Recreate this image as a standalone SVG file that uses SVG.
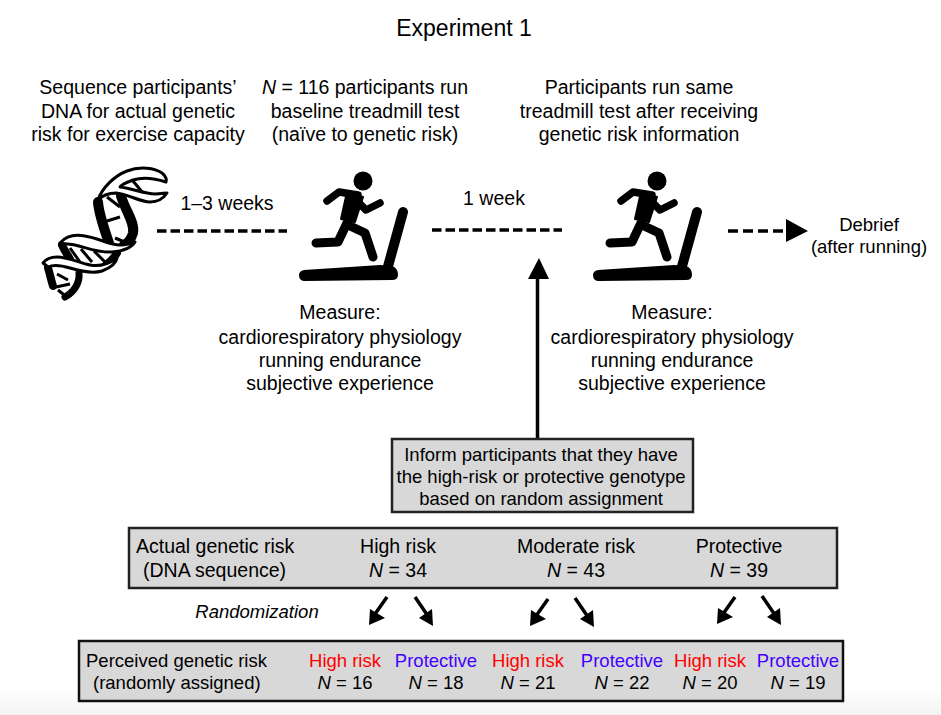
<svg xmlns="http://www.w3.org/2000/svg" width="941" height="715" viewBox="0 0 941 715">
<style>
text{font-family:"Liberation Sans",Arial,sans-serif;font-size:19.500px;fill:#000;text-anchor:middle}
.s{font-size:18.500px}
.l{text-anchor:start}
.box{fill:#d8d8d8;stroke:#222;stroke-width:2.500}
.dash{fill:none;stroke:#000;stroke-width:3.500;stroke-dasharray:9.500 4}
.red{fill:#f00}.blue{fill:#40f}
.limb{fill:none;stroke:#000;stroke-width:9;stroke-linecap:round;stroke-linejoin:round}
.ribbon{fill:#fff;stroke:#000;stroke-width:3;stroke-linejoin:round}
.strand{fill:none;stroke:#000;stroke-linecap:round}
.rung{fill:none;stroke:#000;stroke-width:3}
</style>
<defs>
<linearGradient id="sh" x1="0" y1="0" x2="0" y2="1"><stop offset="0" stop-color="#fff"/><stop offset="1" stop-color="#f3f3f3"/></linearGradient>
<g id="runner">
<circle cx="363" cy="181" r="9.500" fill="#000"/>
<path d="M347 192L363 197L355 222L341 219Z" fill="#000" stroke="#000" stroke-width="2" stroke-linejoin="round"/>
<path class="limb" style="stroke-width:7.500" d="M358 195L339 192L327 201"/>
<path class="limb" style="stroke-width:7.500" d="M358 202L366 210L380 203"/>
<path class="limb" d="M347 223L338 242L316 243"/>
<path class="limb" d="M348 225L365 233L373 257"/>
<path d="M304 270L380 265L392 266Q398 268 398 275Q398 280 392 280L305 281Q299 281 299 275Q299 271 304 270Z" fill="#000"/>
<path d="M403 212L387 270" fill="none" stroke="#000" stroke-width="10" stroke-linecap="round"/>
</g>
</defs>
<rect x="0" y="690" width="941" height="25" fill="url(#sh)"/>
<text x="464" y="36" style="font-size:23px">Experiment 1</text>

<g id="step-dna-text"><text x="138" y="94">Sequence participants’</text><text x="138" y="118">DNA for actual genetic</text><text x="138" y="141">risk for exercise capacity</text></g>
<g id="step-baseline-text"><text x="365" y="94"><tspan font-style="italic">N</tspan> = 116 participants run</text><text x="365" y="118">baseline treadmill test</text><text x="365" y="141">(naïve to genetic risk)</text></g>
<g id="step-retest-text"><text x="639" y="94">Participants run same</text><text x="639" y="118">treadmill test after receiving</text><text x="639" y="141">genetic risk information</text></g>

<g id="dna">
<path class="strand" style="stroke-width:10" d="M98 202C99 215 104 228 109 243"/>
<path class="strand" style="stroke-width:10" d="M121 196C125 210 135 222 133 233C131 240 128 243 124 245"/>
<path class="strand" style="stroke-width:8" d="M62 245C64 250 67 254 70 259"/>
<path class="strand" style="stroke-width:8" d="M117 253C114 258 110 262 106 265"/>
<path class="strand" style="stroke-width:8" d="M48 268C50 274 51 280 53 286"/>
<path class="strand" style="stroke-width:7" d="M79 273C80 283 74 292 65 297"/>
<path class="rung" d="M107 197L120 207M107 221L120 217M115 238L127 243M70 248L80 262M81 249L92 262M94 251L105 262M57 274L68 280M56 287L70 284M58 290L68 298M133 181L143 193"/>
<path class="ribbon" d="M98 200C102 188 114 176 127 171C140 166 155 168 162 173C166 176 167 180 166 182C160 180 145 176 133 180C125 183 120 186 120 187C130 188 145 194 155 194C160 194 165 193 167 193C163 199 158 202 150 202C140 202 128 194 116 193C108 193 102 196 98 200Z"/>
<path class="ribbon" d="M60 243C66 236 75 234 85 236C98 238 110 245 120 245C126 245 131 244 135 242C132 247 124 251 112 252C98 253 85 247 75 245C70 244 65 244 60 243Z"/>
<path class="ribbon" d="M43 263C46 259 50 257 57 257C68 257 80 263 90 265C100 267 110 263 117 258C116 264 110 268 102 271C92 274 80 271 70 268C60 265 52 265 48 267Z"/>
</g>
<g id="runner-1"><use href="#runner"/></g>
<g id="runner-2"><use href="#runner" x="294"/></g>

<g id="connectors">
<path class="dash" d="M157 231H287"/>
<path class="dash" d="M432 230H562"/>
<path class="dash" d="M728 231H788" style="stroke-dasharray:10 5"/>
<path d="M786 219L808 231L786 242Z" fill="#000"/>
<path d="M537.500 438V278" stroke="#000" stroke-width="3.500" fill="none"/>
<path d="M528 279L539 258L549 279Z" fill="#000"/>
<g id="rand-arrows" stroke="#000" stroke-width="3.500" fill="#000">
<path d="M387 597L375 614"/><path d="M369 625L370 609L385 618Z" stroke="none"/>
<path d="M415 597L428 616"/><path d="M433 626L419 618L432 609Z" stroke="none"/>
<path d="M548 599L536 616"/><path d="M530 626L531 610L546 619Z" stroke="none"/>
<path d="M575 598L588 617"/><path d="M594 627L580 619L593 610Z" stroke="none"/>
<path d="M735 597L723 614"/><path d="M717 624L718 608L733 617Z" stroke="none"/>
<path d="M762 596L775 615"/><path d="M781 625L767 617L780 608Z" stroke="none"/>
</g>
</g>

<g id="label-weeks"><text x="227" y="210">1–3 weeks</text><text x="494" y="205">1 week</text></g>
<g id="debrief"><text class="s" x="869" y="231">Debrief</text><text class="s" x="869" y="253">(after running)</text></g>
<g id="measure-1"><text x="340" y="319">Measure:</text><text x="340" y="344">cardiorespiratory physiology</text><text x="340" y="367">running endurance</text><text x="340" y="390">subjective experience</text></g>
<g id="measure-2"><text x="672" y="319">Measure:</text><text x="672" y="344">cardiorespiratory physiology</text><text x="672" y="367">running endurance</text><text x="672" y="390">subjective experience</text></g>

<g id="inform"><rect class="box" x="392" y="439" width="301" height="73"/>
<text class="s" x="541" y="461">Inform participants that they have</text><text class="s" x="541" y="483">the high-risk or protective genotype</text><text class="s" x="541" y="505">based on random assignment</text></g>

<g id="actual"><rect class="box" x="129" y="528" width="708" height="60"/>
<text class="l" x="136" y="553">Actual genetic risk</text><text class="l" x="143" y="577">(DNA sequence)</text>
<text x="398" y="553">High risk</text><text x="398" y="577"><tspan font-style="italic">N</tspan> = 34</text>
<text x="576" y="553">Moderate risk</text><text x="576" y="577"><tspan font-style="italic">N</tspan> = 43</text>
<text x="739" y="553">Protective</text><text x="739" y="577"><tspan font-style="italic">N</tspan> = 39</text></g>

<text id="randomization" class="s" x="257" y="618" font-style="italic">Randomization</text>

<g id="perceived"><rect class="box" x="79" y="641" width="764" height="60" style="stroke:#111"/>
<text class="l s" x="86" y="667">Perceived genetic risk</text><text class="l s" x="93" y="689">(randomly assigned)</text>
<text class="red s" x="345" y="667">High risk</text><text class="s" x="345" y="689"><tspan font-style="italic">N</tspan> = 16</text>
<text class="blue s" x="436" y="667">Protective</text><text class="s" x="436" y="689"><tspan font-style="italic">N</tspan> = 18</text>
<text class="red s" x="528" y="667">High risk</text><text class="s" x="528" y="689"><tspan font-style="italic">N</tspan> = 21</text>
<text class="blue s" x="622" y="667">Protective</text><text class="s" x="622" y="689"><tspan font-style="italic">N</tspan> = 22</text>
<text class="red s" x="710" y="667">High risk</text><text class="s" x="710" y="689"><tspan font-style="italic">N</tspan> = 20</text>
<text class="blue s" x="798" y="667">Protective</text><text class="s" x="798" y="689"><tspan font-style="italic">N</tspan> = 19</text></g>
</svg>
